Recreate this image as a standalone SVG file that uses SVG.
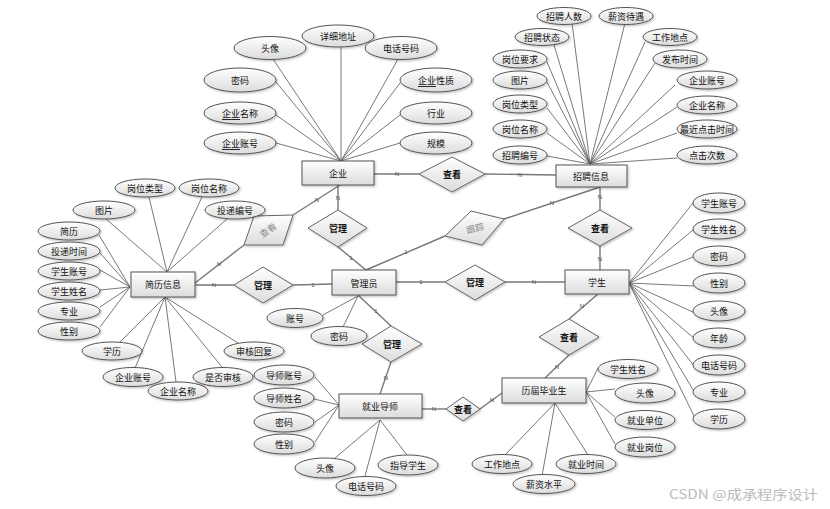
<svg xmlns="http://www.w3.org/2000/svg" width="830" height="509" viewBox="0 0 830 509">
<defs>
<linearGradient id="g" x1="0" y1="0" x2="0" y2="1">
<stop offset="0" stop-color="#ffffff"/><stop offset="1" stop-color="#dcdcdc"/>
</linearGradient>
<filter id="sh" x="-20%" y="-20%" width="150%" height="160%">
<feDropShadow dx="1.2" dy="1.2" stdDeviation="0.8" flood-color="#000" flood-opacity="0.25"/>
</filter>
<style>
.en rect{fill:url(#g);stroke:#555;stroke-width:1;filter:url(#sh)}
.at ellipse{fill:url(#g);stroke:#555;stroke-width:1;filter:url(#sh)}
.rl polygon{fill:url(#g);stroke:#666;stroke-width:1;filter:url(#sh)}
text{font-family:"Noto Sans CJK SC","Noto Sans",sans-serif;font-size:9px;fill:#111;text-anchor:middle;dominant-baseline:central}
.rl text{font-weight:bold}
.rot text{fill:#888;font-weight:normal;font-family:"Noto Sans CJK SC",serif}
.al line{stroke:#555;stroke-width:0.8}
.cn line{stroke:#777;stroke-width:1.4}
.cn text{font-size:6px;fill:#555;font-family:"Liberation Sans",sans-serif}
.wm{font-size:13px;fill:#bbb;text-anchor:start}
</style>
</defs>
<rect width="830" height="509" fill="#fff"/>

<g id="attr-lines" class="al">
<line x1="341" y1="161" x2="273" y2="59"/>
<line x1="341" y1="161" x2="341" y2="47"/>
<line x1="341" y1="161" x2="398" y2="59"/>
<line x1="341" y1="161" x2="276" y2="82"/>
<line x1="341" y1="161" x2="276" y2="115"/>
<line x1="341" y1="161" x2="276" y2="143"/>
<line x1="341" y1="161" x2="400" y2="83"/>
<line x1="341" y1="161" x2="400" y2="115"/>
<line x1="341" y1="161" x2="400" y2="143"/>
<line x1="590" y1="164" x2="572" y2="23"/>
<line x1="590" y1="164" x2="625" y2="23"/>
<line x1="590" y1="164" x2="554" y2="45"/>
<line x1="590" y1="164" x2="645" y2="42"/>
<line x1="590" y1="164" x2="547" y2="62"/>
<line x1="590" y1="164" x2="655" y2="63"/>
<line x1="590" y1="164" x2="547" y2="82"/>
<line x1="590" y1="164" x2="675" y2="85"/>
<line x1="590" y1="164" x2="547" y2="108"/>
<line x1="590" y1="164" x2="677" y2="107"/>
<line x1="590" y1="164" x2="547" y2="133"/>
<line x1="590" y1="164" x2="677" y2="133"/>
<line x1="590" y1="164" x2="547" y2="156"/>
<line x1="590" y1="164" x2="677" y2="158"/>
<line x1="167" y1="272" x2="149" y2="197"/>
<line x1="167" y1="272" x2="202" y2="197"/>
<line x1="167" y1="272" x2="106" y2="219"/>
<line x1="167" y1="272" x2="227" y2="219"/>
<line x1="130" y1="287" x2="99" y2="235"/>
<line x1="130" y1="287" x2="100" y2="253"/>
<line x1="130" y1="287" x2="100" y2="270"/>
<line x1="130" y1="287" x2="100" y2="290"/>
<line x1="130" y1="287" x2="100" y2="307"/>
<line x1="130" y1="287" x2="100" y2="327"/>
<line x1="165" y1="297" x2="117" y2="345"/>
<line x1="165" y1="297" x2="135" y2="368"/>
<line x1="165" y1="297" x2="176" y2="382"/>
<line x1="165" y1="297" x2="222" y2="367"/>
<line x1="165" y1="297" x2="238" y2="343"/>
<line x1="358" y1="296" x2="323" y2="315"/>
<line x1="358" y1="296" x2="343" y2="327"/>
<line x1="629" y1="283" x2="693" y2="203"/>
<line x1="629" y1="283" x2="693" y2="230"/>
<line x1="629" y1="283" x2="693" y2="257"/>
<line x1="629" y1="283" x2="694" y2="286"/>
<line x1="629" y1="283" x2="695" y2="313"/>
<line x1="629" y1="283" x2="695" y2="339"/>
<line x1="629" y1="283" x2="695" y2="367"/>
<line x1="629" y1="283" x2="695" y2="393"/>
<line x1="629" y1="283" x2="695" y2="418"/>
<line x1="339" y1="405" x2="315" y2="377"/>
<line x1="339" y1="405" x2="314" y2="399"/>
<line x1="339" y1="405" x2="315" y2="422"/>
<line x1="339" y1="405" x2="315" y2="442"/>
<line x1="380" y1="420" x2="335" y2="458"/>
<line x1="380" y1="420" x2="365" y2="476"/>
<line x1="380" y1="420" x2="407" y2="455"/>
<line x1="586" y1="392" x2="598" y2="368"/>
<line x1="586" y1="392" x2="615" y2="389"/>
<line x1="586" y1="392" x2="615" y2="417"/>
<line x1="586" y1="392" x2="615" y2="444"/>
<line x1="555" y1="403" x2="505" y2="455"/>
<line x1="555" y1="403" x2="542" y2="476"/>
<line x1="555" y1="403" x2="588" y2="455"/>
</g>

<g id="connectors" class="cn">
<line x1="374" y1="174" x2="419" y2="174"/><text x="397" y="174">N</text>
<line x1="485" y1="174" x2="556" y2="175"/><text x="520" y="175">N</text>
<line x1="338" y1="185" x2="338" y2="210"/><text x="338" y="198">N</text>
<line x1="338" y1="247" x2="366" y2="270"/><text x="351" y="258">1</text>
<line x1="340" y1="185" x2="293" y2="215"/><text x="317" y="200">N</text>
<line x1="244" y1="245" x2="195" y2="283"/><text x="219" y="264">N</text>
<line x1="195" y1="285" x2="234" y2="285"/><text x="214" y="285">N</text>
<line x1="293" y1="285" x2="332" y2="284"/><text x="313" y="285">1</text>
<line x1="366" y1="270" x2="445" y2="236"/><text x="406" y="252">1</text>
<line x1="504" y1="219" x2="600" y2="187"/><text x="552" y="203">N</text>
<line x1="600" y1="187" x2="600" y2="210"/><text x="600" y="197">N</text>
<line x1="600" y1="246" x2="600" y2="270"/><text x="600" y="259">N</text>
<line x1="396" y1="282" x2="445" y2="282"/><text x="421" y="282">1</text>
<line x1="505" y1="282" x2="565" y2="282"/><text x="534" y="282">N</text>
<line x1="358" y1="295" x2="391" y2="326"/><text x="376" y="311">1</text>
<line x1="391" y1="362" x2="380" y2="394"/><text x="386" y="378">N</text>
<line x1="422" y1="409" x2="446" y2="409"/><text x="434" y="409">N</text>
<line x1="480" y1="409" x2="502" y2="393"/><text x="492" y="400">N</text>
<line x1="598" y1="294" x2="569" y2="319"/><text x="582" y="306">N</text>
<line x1="569" y1="355" x2="545" y2="378"/><text x="557" y="367">N</text>
</g>

<g id="rel-chakan-qiye-zhaopin" class="rl"><polygon points="419,174 452,157 485,174 452,192"/><text x="452" y="174">查看</text></g>
<g id="rel-guanli-qiye" class="rl"><polygon points="308,228 338,210 367,228 338,247"/><text x="338" y="228">管理</text></g>
<g id="rel-chakan-jianli-qiye" class="rl rot"><polygon points="254,216 293,215 283,245 244,245"/><text x="268" y="230" transform="rotate(-35 268 230)">查看</text></g>
<g id="rel-genzong" class="rl rot"><polygon points="445,236 471,211 504,219 482,245"/><text x="475" y="228" transform="rotate(-15 475 228)">跟踪</text></g>
<g id="rel-chakan-zhaopin-xuesheng" class="rl"><polygon points="568,228 600,210 632,228 600,246"/><text x="600" y="228">查看</text></g>
<g id="rel-guanli-jianli" class="rl"><polygon points="234,285 263,267 293,285 263,303"/><text x="263" y="285">管理</text></g>
<g id="rel-guanli-xuesheng" class="rl"><polygon points="445,282 475,265 505,282 475,300"/><text x="475" y="282">管理</text></g>
<g id="rel-guanli-daoshi" class="rl"><polygon points="362,344 391,326 422,344 391,362"/><text x="392" y="344">管理</text></g>
<g id="rel-chakan-daoshi-biye" class="rl"><polygon points="446,409 463,397 480,409 463,421"/><text x="463" y="409">查看</text></g>
<g id="rel-chakan-xuesheng-biye" class="rl"><polygon points="539,337 569,319 599,337 569,355"/><text x="569" y="337">查看</text></g>

<g id="ent-qiye" class="en"><rect x="302" y="161" width="72" height="24"/><text x="338" y="173">企业</text></g>
<g id="ent-zhaopin" class="en"><rect x="556" y="165" width="71" height="22"/><text x="591" y="176">招聘信息</text></g>
<g id="ent-jianli" class="en"><rect x="131" y="272" width="64" height="25"/><text x="163" y="284">简历信息</text></g>
<g id="ent-guanliyuan" class="en"><rect x="332" y="270" width="64" height="25"/><text x="364" y="283">管理员</text></g>
<g id="ent-xuesheng" class="en"><rect x="565" y="270" width="64" height="24"/><text x="597" y="282">学生</text></g>
<g id="ent-daoshi" class="en"><rect x="339" y="394" width="83" height="24"/><text x="380" y="406">就业导师</text></g>
<g id="ent-biye" class="en"><rect x="502" y="378" width="84" height="25"/><text x="544" y="390">历届毕业生</text></g>

<g id="attrs-qiye" class="at">
<ellipse cx="270" cy="48" rx="36" ry="11.5"/><text x="270" y="48">头像</text>
<ellipse cx="338" cy="36" rx="36" ry="11"/><text x="338" y="36">详细地址</text>
<ellipse cx="401" cy="48" rx="36" ry="11.5"/><text x="401" y="48">电话号码</text>
<ellipse cx="240" cy="80" rx="36" ry="12"/><text x="240" y="80">密码</text>
<ellipse cx="436" cy="80" rx="36" ry="12"/><text x="436" y="80"><tspan text-decoration="underline">企业</tspan>性质</text>
<ellipse cx="240" cy="113" rx="36" ry="11"/><text x="240" y="113"><tspan text-decoration="underline">企业</tspan>名称</text>
<ellipse cx="436" cy="113" rx="36" ry="11"/><text x="436" y="113">行业</text>
<ellipse cx="240" cy="143" rx="36" ry="11"/><text x="240" y="143"><tspan text-decoration="underline">企业</tspan>账号</text>
<ellipse cx="436" cy="143" rx="36" ry="11"/><text x="436" y="143">规模</text>
</g>

<g id="attrs-zhaopin" class="at">
<ellipse cx="564" cy="16" rx="27" ry="8.5"/><text x="564" y="16">招聘人数</text>
<ellipse cx="626" cy="16" rx="27" ry="8.5"/><text x="626" y="16">薪资待遇</text>
<ellipse cx="542" cy="37" rx="27" ry="8.5"/><text x="542" y="37">招聘状态</text>
<ellipse cx="670" cy="37" rx="27" ry="8.5"/><text x="670" y="37">工作地点</text>
<ellipse cx="520" cy="59" rx="27" ry="9"/><text x="520" y="59">岗位要求</text>
<ellipse cx="680" cy="59" rx="27" ry="9"/><text x="680" y="59">发布时间</text>
<ellipse cx="520" cy="80" rx="27" ry="9"/><text x="520" y="80">图片</text>
<ellipse cx="707" cy="80" rx="30" ry="9"/><text x="707" y="80">企业账号</text>
<ellipse cx="520" cy="104" rx="27" ry="9"/><text x="520" y="104">岗位类型</text>
<ellipse cx="707" cy="105" rx="30" ry="9"/><text x="707" y="105">企业名称</text>
<ellipse cx="520" cy="129" rx="27" ry="9"/><text x="520" y="129">岗位名称</text>
<ellipse cx="707" cy="129" rx="30" ry="9"/><text x="707" y="129">最近点击时间</text>
<ellipse cx="520" cy="155" rx="27" ry="9"/><text x="520" y="155">招聘编号</text>
<ellipse cx="707" cy="155" rx="30" ry="9"/><text x="707" y="155">点击次数</text>
</g>

<g id="attrs-jianli" class="at">
<ellipse cx="145" cy="188" rx="30" ry="9"/><text x="145" y="188">岗位类型</text>
<ellipse cx="209" cy="188" rx="30" ry="9"/><text x="209" y="188">岗位名称</text>
<ellipse cx="104" cy="210" rx="31" ry="9"/><text x="104" y="210">图片</text>
<ellipse cx="235" cy="210" rx="30" ry="9"/><text x="235" y="210">投递编号</text>
<ellipse cx="69" cy="231" rx="31" ry="9"/><text x="69" y="231">简历</text>
<ellipse cx="69" cy="251" rx="31" ry="9"/><text x="69" y="251">投递时间</text>
<ellipse cx="69" cy="271" rx="31" ry="9"/><text x="69" y="271">学生账号</text>
<ellipse cx="69" cy="291" rx="31" ry="9"/><text x="69" y="291">学生姓名</text>
<ellipse cx="69" cy="311" rx="31" ry="9"/><text x="69" y="311">专业</text>
<ellipse cx="69" cy="331" rx="31" ry="9"/><text x="69" y="331">性别</text>
<ellipse cx="112" cy="351" rx="30" ry="9"/><text x="112" y="351">学历</text>
<ellipse cx="133" cy="377" rx="30" ry="9.5"/><text x="133" y="377">企业账号</text>
<ellipse cx="178" cy="391" rx="30" ry="9"/><text x="178" y="391">企业名称</text>
<ellipse cx="223" cy="377" rx="30" ry="9.5"/><text x="223" y="377">是否审核</text>
<ellipse cx="254" cy="351" rx="30" ry="9"/><text x="254" y="351">审核回复</text>
</g>

<g id="attrs-guanliyuan" class="at">
<ellipse cx="295" cy="318" rx="28" ry="9.5"/><text x="295" y="318">账号</text>
<ellipse cx="339" cy="336" rx="28" ry="9.5"/><text x="339" y="336">密码</text>
</g>

<g id="attrs-xuesheng" class="at">
<ellipse cx="719" cy="203" rx="26" ry="10"/><text x="719" y="203">学生账号</text>
<ellipse cx="719" cy="229" rx="26" ry="10"/><text x="719" y="229">学生姓名</text>
<ellipse cx="719" cy="256" rx="26" ry="10"/><text x="719" y="256">密码</text>
<ellipse cx="719" cy="283" rx="26" ry="10"/><text x="719" y="283">性别</text>
<ellipse cx="719" cy="311" rx="26" ry="10"/><text x="719" y="311">头像</text>
<ellipse cx="719" cy="338" rx="26" ry="10"/><text x="719" y="338">年龄</text>
<ellipse cx="719" cy="365" rx="26" ry="10"/><text x="719" y="365">电话号码</text>
<ellipse cx="719" cy="392" rx="26" ry="10"/><text x="719" y="392">专业</text>
<ellipse cx="719" cy="419" rx="26" ry="10"/><text x="719" y="419">学历</text>
</g>

<g id="attrs-daoshi" class="at">
<ellipse cx="284" cy="375" rx="30" ry="10"/><text x="284" y="375">导师账号</text>
<ellipse cx="284" cy="398" rx="30" ry="10"/><text x="284" y="398">导师姓名</text>
<ellipse cx="284" cy="422" rx="30" ry="10"/><text x="284" y="422">密码</text>
<ellipse cx="284" cy="444" rx="30" ry="10"/><text x="284" y="444">性别</text>
<ellipse cx="325" cy="468" rx="30" ry="10"/><text x="325" y="468">头像</text>
<ellipse cx="366" cy="486" rx="30" ry="9.5"/><text x="366" y="486">电话号码</text>
<ellipse cx="408" cy="465" rx="30" ry="10"/><text x="408" y="465">指导学生</text>
</g>

<g id="attrs-biye" class="at">
<ellipse cx="628" cy="369" rx="30" ry="9.5"/><text x="628" y="369">学生姓名</text>
<ellipse cx="645" cy="393" rx="30" ry="10"/><text x="645" y="393">头像</text>
<ellipse cx="645" cy="420" rx="30" ry="9.5"/><text x="645" y="420">就业单位</text>
<ellipse cx="645" cy="447" rx="30" ry="10"/><text x="645" y="447">就业岗位</text>
<ellipse cx="502" cy="464" rx="30" ry="9.5"/><text x="502" y="464">工作地点</text>
<ellipse cx="544" cy="484" rx="31" ry="9.5"/><text x="544" y="484">薪资水平</text>
<ellipse cx="586" cy="464" rx="30" ry="9.5"/><text x="586" y="464">就业时间</text>
</g>

<text class="wm" x="669" y="493" textLength="149" lengthAdjust="spacingAndGlyphs">CSDN @成承程序设计</text>
</svg>
